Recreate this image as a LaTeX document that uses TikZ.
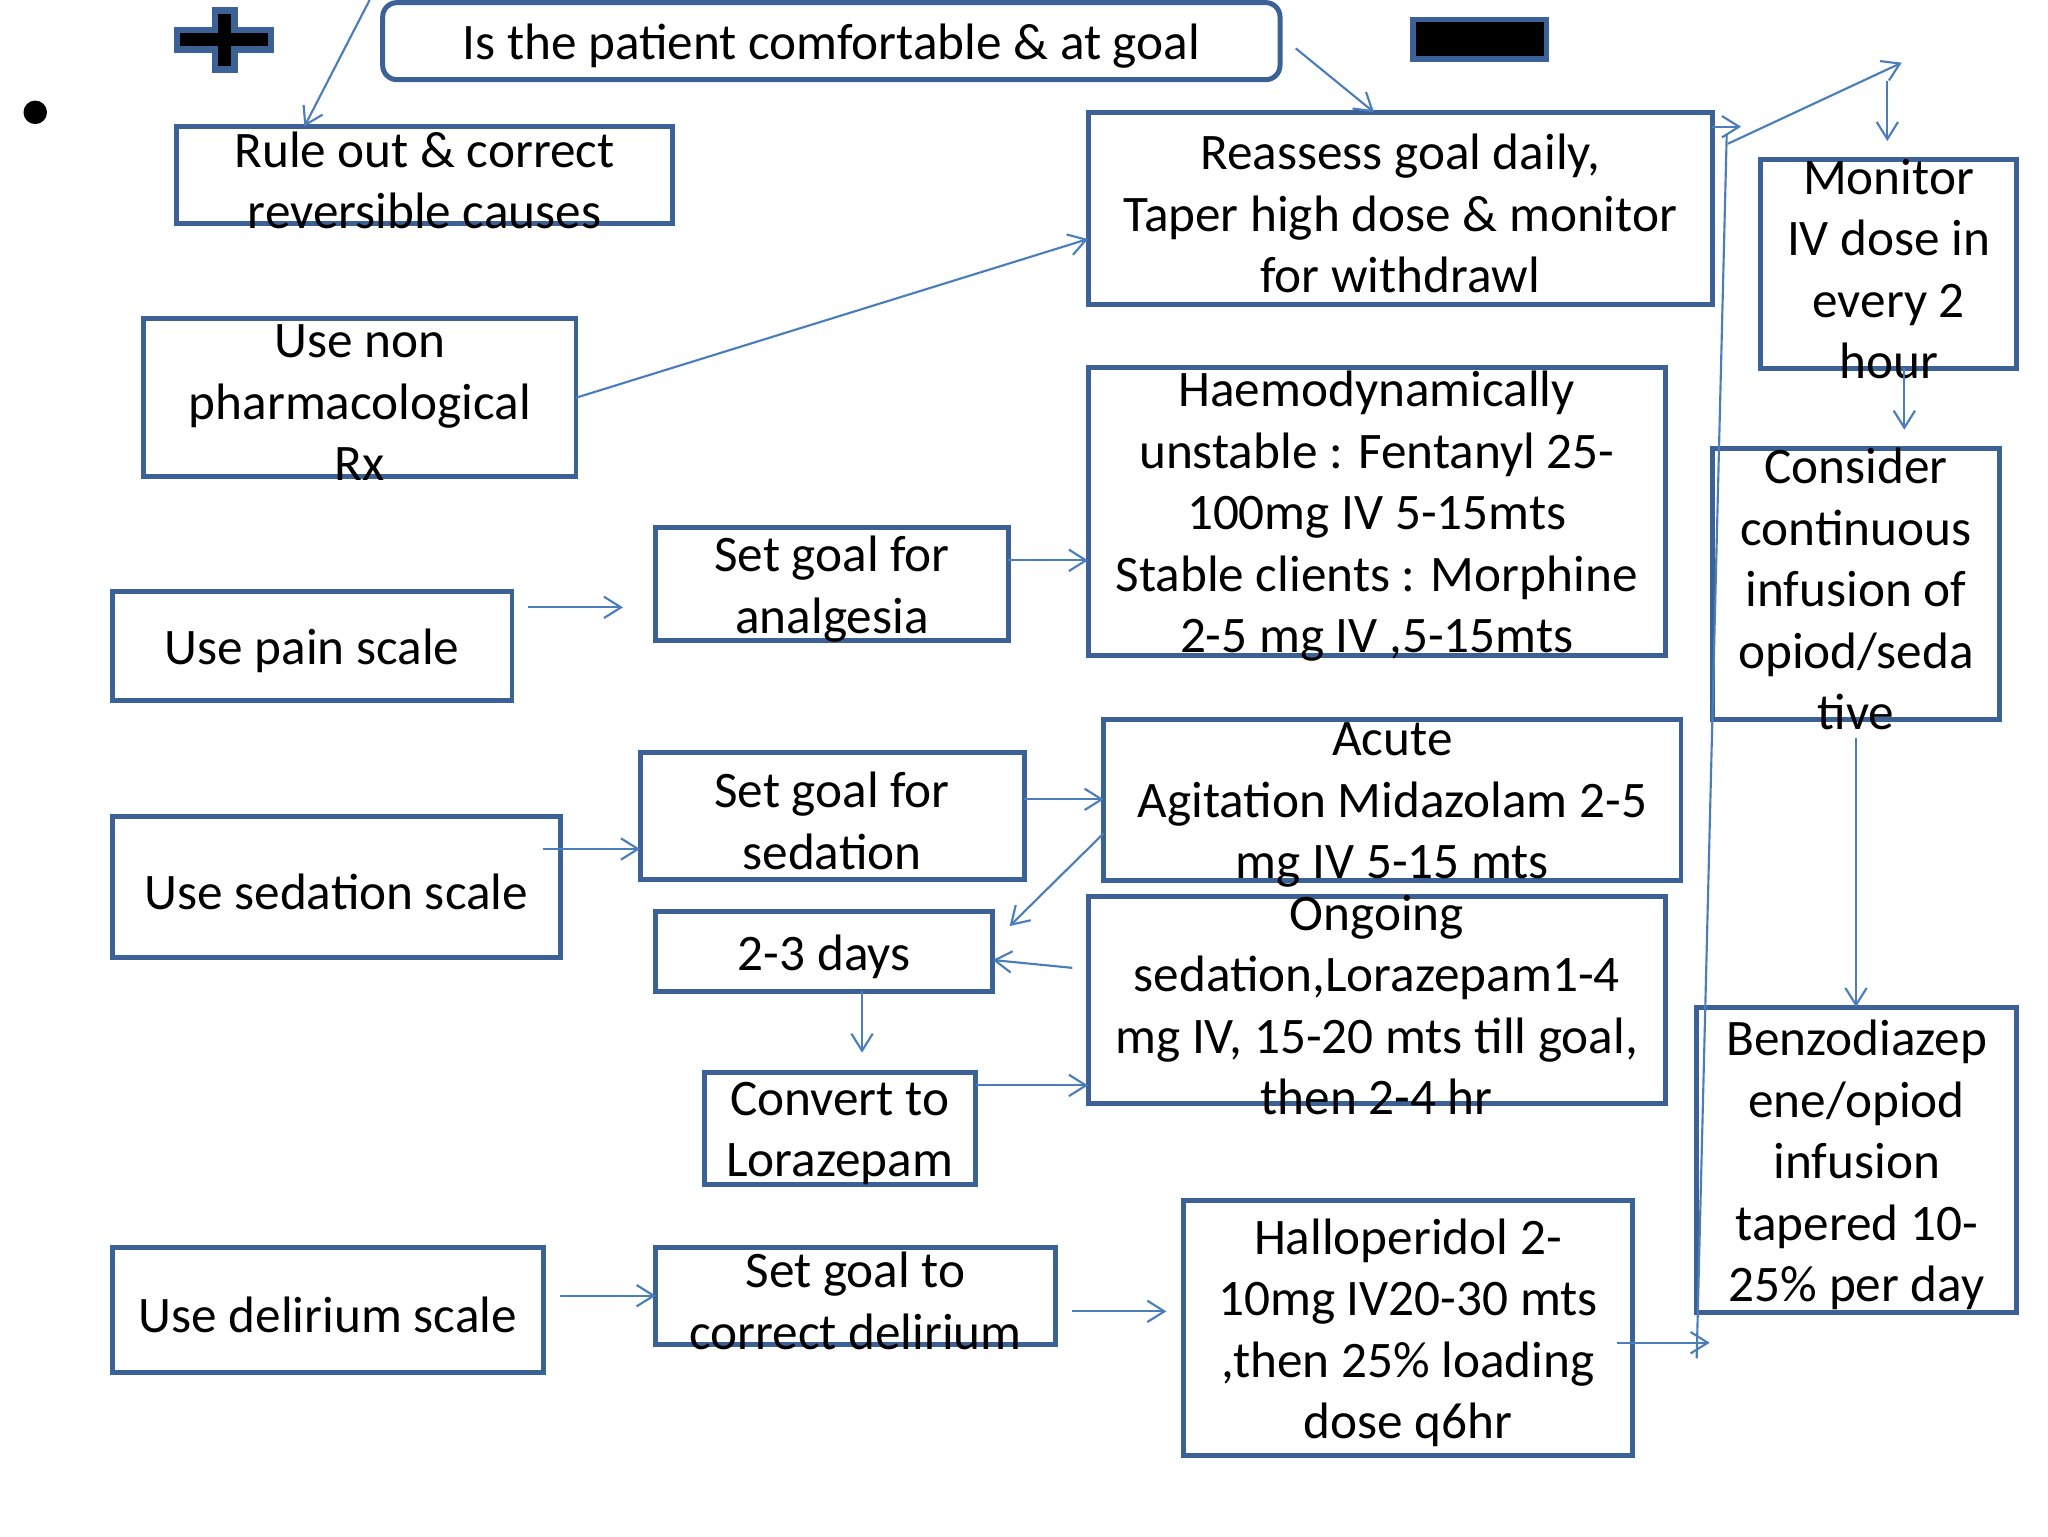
\documentclass[tikz,border=0pt]{standalone}
\usepackage{fontspec}
\setmainfont{Carlito}
\usetikzlibrary{arrows.meta,calc}
\definecolor{boxblue}{HTML}{3C6196}
\definecolor{linkblue}{HTML}{4A7EBB}
\tikzset{
 flow/.style={draw=boxblue,line width=1.75pt,inner sep=0pt,outer sep=0pt},
 txt/.style={align=center,font=\fontsize{18}{21.6}\selectfont,inner sep=0pt,text=black,yshift=-1.8pt},
 link/.style={draw=linkblue,line width=0.75pt,-{Straight Barb[length=6pt,width=7.5pt,line width=0.75pt]}},
 plainlink/.style={draw=linkblue,line width=0.75pt}
}
\newcommand\mkbox[7][]{%
 \node[flow,#1,minimum width={(#5-#3)*0.459pt},minimum height={(#6-#4)*0.459pt},
   label={[txt,name=#2-t]center:{#7}}] (#2) at ({(#3+#5)/2},{(#4+#6)/2}) {};}
\begin{document}
\begin{tikzpicture}[x=0.459pt,y=-0.459pt]
\useasboundingbox[fill=white] (0,0) rectangle (1568,1176);
% decorations
\draw[draw=boxblue,line width=2.3pt,fill=black] (164.5,8) -- (179.5,8) -- (179.5,23) -- (207.5,23) -- (207.5,38) -- (179.5,38) -- (179.5,53) -- (164.5,53) -- (164.5,38) -- (135.5,38) -- (135.5,23) -- (164.5,23) -- cycle;
\draw[draw=boxblue,line width=2pt,fill=black] (1082,15) rectangle (1184,45);
\fill[black] (27,86) circle (9);
% boxes
\mkbox[rounded corners=5pt]{goal}{293}{2}{980}{61}{Is the patient comfortable \& at goal}
\mkbox{ruleout}{135}{97}{515}{171}{Rule out \& correct\\reversible causes}
\mkbox{nonpharm}{110}{244}{441}{365}{Use non\\pharmacological\\Rx}
\mkbox{pain}{86}{453}{392}{536}{Use pain scale}
\mkbox{sedscale}{86}{625}{429}{733}{Use sedation scale}
\mkbox{delscale}{86}{955}{416}{1051}{Use delirium scale}
\mkbox{goalan}{502}{404}{772}{490}{Set goal for\\analgesia}
\mkbox{goalsed}{490}{576}{784}{673}{Set goal for\\sedation}
\mkbox{days}{502}{698}{760}{759}{2-3 days}
\mkbox{convert}{539}{821}{747}{907}{Convert to\\Lorazepam}
\mkbox{goaldel}{502}{955}{808}{1029}{Set goal to\\correct delirium}
\mkbox{reassess}{833}{86}{1311}{233}{Reassess goal daily,\\Taper high dose \& monitor\\for withdrawl}
\mkbox{haemo}{833}{281}{1275}{502}{Haemodynamically\\unstable : Fentanyl 25-\\100mg IV 5-15mts\\Stable clients : Morphine\\2-5 mg IV ,5-15mts}
\mkbox{acute}{845}{551}{1287}{674}{Acute\\Agitation Midazolam 2-5\\mg IV 5-15 mts}
\mkbox{ongoing}{833}{686}{1275}{845}{Ongoing\\sedation,Lorazepam1-4\\mg IV, 15-20 mts till goal,\\then 2-4 hr}
\mkbox{hallo}{906}{919}{1250}{1114}{Halloperidol 2-\\10mg IV20-30 mts\\,then 25\% loading\\dose q6hr}
\mkbox{monitor}{1348}{122}{1544}{282}{Monitor\\IV dose in\\every 2\\hour}
\mkbox{consider}{1311}{343}{1531}{551}{Consider\\continuous\\infusion of\\opiod/seda\\tive}
\mkbox{benzo}{1299}{771}{1544}{1005}{Benzodiazep\\ene/opiod\\infusion\\tapered 10-\\25\% per day}
% free connector ends
\coordinate (a0) at (283,0);
\coordinate (b0) at (992,37);
\coordinate (p0) at (404,465);
\coordinate (p1) at (477,465);
\coordinate (s0) at (416,650);
\coordinate (h1) at (773,709);
\coordinate (i0) at (821,741);
\coordinate (j1) at (660,806);
\coordinate (l0) at (429,992);
\coordinate (m0) at (821,1004);
\coordinate (m1) at (893,1004);
\coordinate (n0) at (1238,1028);
\coordinate (n1) at (1309,1028);
\coordinate (o1) at (1333,97);
\coordinate (v0) at (1322,103);
\coordinate (v1) at (1299,1040);
\coordinate (q0) at (1323,110);
\coordinate (q1) at (1456,48);
\coordinate (r0) at (1445,62);
\coordinate (r1) at (1445,108);
\coordinate (t1) at (1458,329);
\coordinate (u0) at (1421,565);
% connectors
\draw[link] (a0) -- (ruleout.north -| 233,0);
\draw[link] (b0) -- (reassess.north -| 1052,0);
\draw[link] (nonpharm.east) -- (reassess.west |- 0,183);
\draw[link] (p0) -- (p1);
\draw[link] (goalan.east |- 0,429) -- (haemo.west |- 0,429);
\draw[link] (s0) -- (goalsed.west |- 0,650);
\draw[link] (goalsed.east |- 0,612) -- (acute.west |- 0,612);
\draw[link] (acute.west |- 0,638) -- (h1);
\draw[link] (i0) -- (days.east |- 0,735);
\draw[link] (days.south -| 660,0) -- (j1);
\draw[link] (convert.east |- 0,831) -- (ongoing.west |- 0,831);
\draw[link] (l0) -- (goaldel.west |- 0,992);
\draw[link] (m0) -- (m1);
\draw[link] (n0) -- (n1);
\draw[link] (reassess.east |- 0,97) -- (o1);
\draw[plainlink] (v0) -- (v1);
\draw[link] (q0) -- (q1);
\draw[link] (r0) -- (r1);
\draw[link] (monitor.south -| 1458,0) -- (t1);
\draw[link] (u0) -- (benzo.north -| 1421,0);
\end{tikzpicture}
\end{document}
